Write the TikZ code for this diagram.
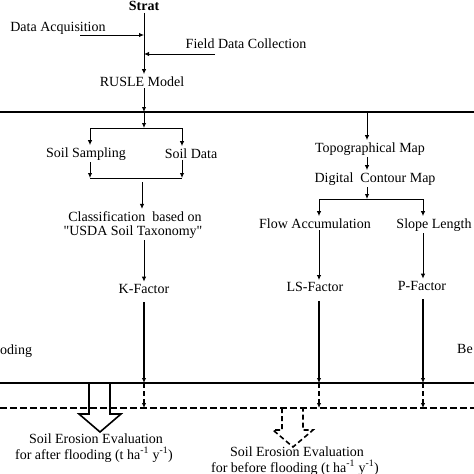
\documentclass[tikz,border=0pt]{standalone}
\usepackage{fontspec}
\setmainfont{Liberation Serif}
\usetikzlibrary{arrows.meta}
\begin{document}
\begin{tikzpicture}[x=1pt,y=-1pt,font=\fontsize{14}{16}\selectfont,
  every node/.style={inner sep=2pt,anchor=base},
  >={Latex[length=5pt,width=4.5pt]},
  flow/.style={->,line width=0.9pt},
  factor/.style={->,line width=1.8pt,shorten <=7pt},
  gap/.style={->,line width=1.3pt,dash pattern=on 5pt off 3pt},
  stage/.style={line width=1.4pt},
  hollow/.style={line width=1.6pt,line join=miter}]
\useasboundingbox (0,0) rectangle (474,474);
\node(strat) at (144,10.5){\textbf{Strat}};
\node(acquisition) at (58,31){Data Acquisition};
\node(field) at (246,48){Field Data Collection};
\node(rusle) at (142,86){RUSLE Model};
\node(sampling) at (86,157){Soil Sampling};
\node(soil-data) at (191,158){Soil Data};
\node(classification) at (135,221){Classification\ \ based on};
\node(taxonomy) at (133,235){\textquotedbl USDA Soil Taxonomy\textquotedbl};
\node(k-factor) at (144,293){K-Factor};
\node(topo) at (370,152){Topographical Map};
\node(contour) at (375,182){Digital\ \ Contour Map};
\node(flow-acc) at (315,228){Flow Accumulation};
\node(slope) at (434,228){Slope Length};
\node(ls-factor) at (315,291.5){LS-Factor};
\node(p-factor) at (422,290){P-Factor};
\node(after)[anchor=base west] at (-2,354){oding};
\node(before)[anchor=base west] at (455,353){Be};
\node(after-eval) at (96,443){Soil Erosion Evaluation};
\node(after-unit) at (94,459){for after flooding (t ha\textsuperscript{-1} y\textsuperscript{-1})};
\node(before-eval) at (297,456){Soil Erosion Evaluation};
\node(before-unit) at (295,472){for before flooding (t ha\textsuperscript{-1} y\textsuperscript{-1})};
\coordinate(acq-tail) at (80,35);
\coordinate(field-tail) at (215,54);
\coordinate(hub) at (144,112);
\coordinate(hub-r) at (367,112);
\coordinate(stage-w) at (0,112);
\coordinate(stage-e) at (474,112);
\coordinate(soil-fork) at (144,128);
\coordinate(fork-w) at (90,128);
\coordinate(fork-e) at (182,128);
\coordinate(join-w) at (90,178);
\coordinate(join-e) at (182,178);
\coordinate(join-mid) at (142,182);
\coordinate(ls-fork) at (367,199);
\coordinate(fork-flow) at (319,199);
\coordinate(fork-slope) at (423,199);
\coordinate(after-w) at (0,383);
\coordinate(after-e) at (474,383);
\coordinate(before-w) at (0,408);
\coordinate(before-e) at (474,408);
\draw[flow] (strat) to (strat |- rusle.north);
\draw[flow] (acq-tail) to (acq-tail -| strat);
\draw[flow] (field-tail) to (field-tail -| strat);
\draw[flow] (rusle.south -| hub) to (hub);
\draw[stage] (stage-w) to (stage-e);
\draw[flow] (hub) to (soil-fork);
\draw[line width=0.9pt] (fork-w) to (fork-e);
\draw[flow] (fork-w) to (fork-w |- sampling.north);
\draw[flow] (fork-e) to (fork-e |- soil-data.north);
\draw[flow] (sampling.south -| join-w) to (join-w);
\draw[flow] (soil-data.south -| join-e) to (join-e);
\draw[line width=0.9pt] (join-w) to (join-e);
\draw[flow] (join-mid) to (join-mid |- classification.north);
\draw[flow] (taxonomy.south -| k-factor) to (k-factor);
\draw[flow] (hub-r) to (hub-r |- topo.north);
\draw[flow] (topo.south -| hub-r) to (hub-r |- contour.north);
\draw[flow] (contour.south -| hub-r) to (ls-fork);
\draw[line width=0.9pt] (fork-flow) to (fork-slope);
\draw[flow] (fork-flow) to (fork-flow |- flow-acc.north);
\draw[flow] (fork-slope) to (fork-slope |- slope.north);
\draw[flow] (flow-acc.south -| fork-flow) to (fork-flow |- ls-factor.north);
\draw[flow] (slope.south -| fork-slope) to (fork-slope |- p-factor.north);
\draw[stage] (after-w) to (after-e);
\draw[stage,dash pattern=on 7pt off 3pt] (before-w) to (before-e);
\draw[factor] (k-factor.south) to (k-factor |- after-w);
\draw[factor] (ls-factor.south -| fork-flow) to (fork-flow |- after-w);
\draw[factor] (p-factor.south -| fork-slope) to (fork-slope |- after-w);
\draw[gap] (k-factor |- after-w) to (k-factor |- before-w);
\draw[gap] (fork-flow |- after-w) to (fork-flow |- before-w);
\draw[gap] (fork-slope |- after-w) to (fork-slope |- before-w);
\draw[hollow] (89,383) -- (89,414) -- (79,414) -- (100,432) -- (121,414) -- (110,414) -- (110,383) -- cycle;
\draw[hollow,dash pattern=on 5pt off 3pt] (282,408) -- (282,430) -- (273,430) -- (293,447) -- (313,430) -- (303,430) -- (303,408);
\end{tikzpicture}
\end{document}
